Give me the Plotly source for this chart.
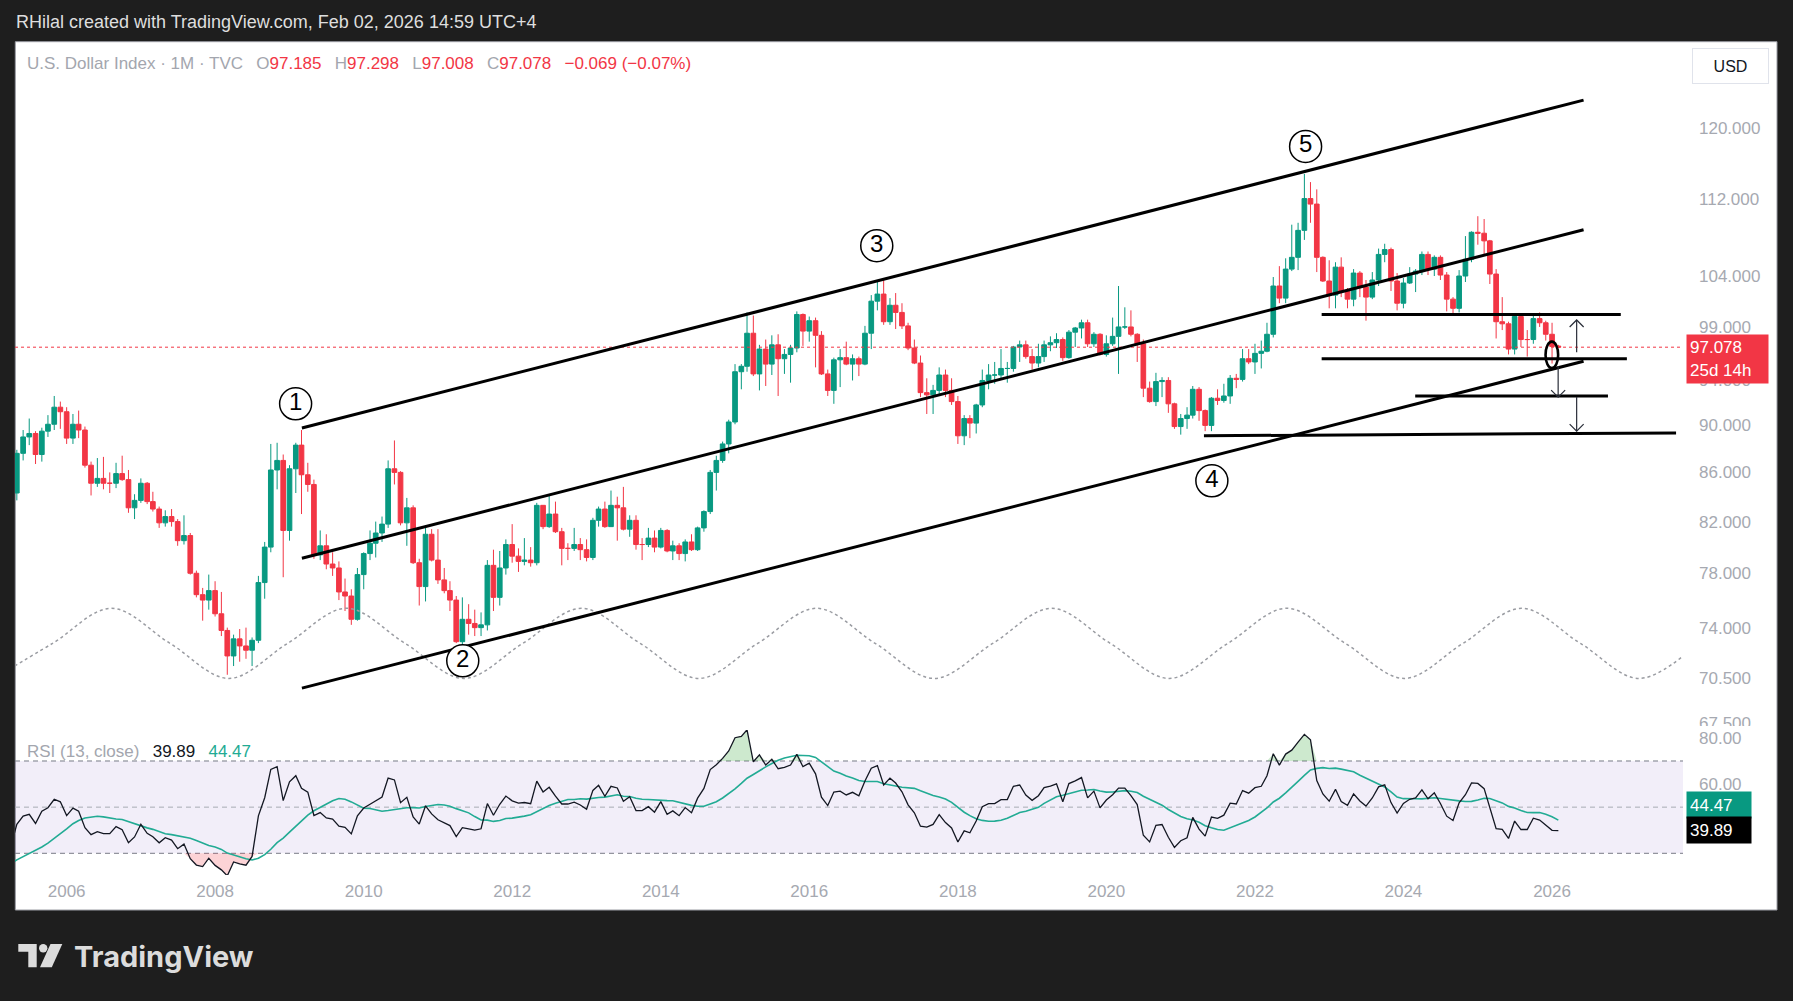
import numpy as np
import pandas as pd
import plotly.graph_objects as go

# ---------------------------------------------------------------- data
# U.S. Dollar Index, monthly bars (first bars before the visible range only warm up the RSI)
first_month = "2002-01-01"
opens = [
    116.8, 119.9, 119.4, 119.2, 115.5, 112.0, 106.0, 107.0, 107.2, 107.0, 106.8, 106.3,
    102.0, 100.6, 100.0, 100.3, 97.6, 93.9, 95.1, 97.4, 98.3, 93.7, 93.8, 91.2,
    86.9, 87.3, 88.4, 88.5, 90.9, 88.9, 88.9, 89.6, 88.9, 87.8, 85.1, 81.8,
    81.0, 83.8, 82.6, 84.7, 84.3, 87.6, 89.0, 89.3, 87.5, 89.5, 90.1, 91.6,
    91.2, 88.9, 90.1, 89.6, 86.6, 85.1, 85.5, 85.1, 85.1, 85.9, 85.4, 83.1,
    83.7, 85.1, 83.6, 83.0, 81.9, 82.4, 82.0, 80.5, 80.9, 78.0, 76.4, 76.0,
    76.7, 75.0, 73.8, 72.0, 73.2, 72.7, 72.4, 73.1, 77.3, 80.0, 86.2, 87.0,
    81.3, 86.3, 88.3, 85.8, 85.0, 79.4, 80.1, 78.7, 78.4, 76.6, 76.3, 74.6,
    77.9, 79.5, 80.3, 81.1, 81.8, 86.3, 86.0, 81.9, 83.1, 78.8, 77.0, 81.0,
    79.0, 77.5, 76.7, 76.0, 73.0, 74.6, 74.3, 74.0, 74.2, 78.6, 76.2, 78.4,
    80.2, 79.3, 78.9, 79.0, 78.8, 83.3, 81.6, 82.6, 81.2, 79.9, 79.9, 80.2,
    79.8, 79.2, 82.1, 83.0, 81.6, 83.3, 83.1, 81.4, 82.1, 80.2, 80.2, 80.7,
    80.0, 81.3, 79.7, 80.1, 79.5, 80.4, 79.8, 81.5, 82.8, 86.0, 87.0, 88.4,
    90.3, 94.8, 95.3, 98.4, 94.6, 96.9, 95.5, 97.3, 96.0, 96.4, 97.0, 100.2,
    98.6, 99.6, 98.2, 94.6, 93.1, 95.9, 96.1, 95.5, 96.0, 95.5, 98.4, 101.5,
    102.2, 99.5, 101.1, 100.4, 99.1, 97.0, 95.6, 92.9, 92.7, 93.1, 94.5, 93.1,
    92.1, 89.1, 90.6, 90.2, 91.8, 94.0, 94.5, 94.5, 95.1, 95.1, 97.1, 97.3,
    96.2, 95.6, 96.2, 97.3, 97.5, 97.8, 96.1, 98.5, 98.9, 99.4, 97.4, 98.3,
    96.4, 97.4, 98.1, 99.0, 99.0, 98.3, 97.4, 93.3, 92.1, 93.9, 94.0, 91.9,
    89.9, 90.6, 90.9, 93.2, 91.3, 90.0, 92.4, 92.2, 92.6, 94.2, 94.1, 96.0,
    95.7, 96.5, 96.7, 98.3, 103.0, 101.8, 104.7, 105.9, 108.7, 112.1, 111.5, 105.9,
    103.5, 102.1, 104.9, 102.5, 101.7, 104.3, 102.9, 101.9, 103.6, 106.2, 106.7, 103.5,
    101.3, 103.3, 104.2, 104.5, 106.2, 104.7, 105.9, 104.1, 101.7, 100.8, 104.0, 105.7,
    108.5, 108.4, 107.6, 104.2, 99.5, 99.3, 96.9, 100.0, 97.8, 97.8, 99.8, 99.4,
    98.3, 97.185,
]
highs = [
    120.5, 120.4, 120.2, 119.6, 115.9, 112.4, 108.5, 108.3, 108.3, 108.3, 107.5, 106.9,
    102.3, 101.4, 102.0, 101.0, 97.8, 96.3, 98.2, 99.4, 98.5, 95.4, 94.8, 91.4,
    88.1, 88.9, 90.2, 91.3, 92.3, 89.7, 90.2, 90.2, 89.8, 88.5, 85.3, 82.2,
    84.1, 84.8, 84.9, 85.4, 87.9, 89.6, 90.6, 89.5, 89.8, 90.9, 92.6, 92.1,
    91.6, 91.0, 91.3, 89.9, 86.9, 87.2, 87.3, 86.0, 86.8, 87.4, 86.2, 84.2,
    85.5, 85.2, 84.4, 83.2, 82.9, 83.0, 82.2, 82.5, 81.1, 78.2, 76.9, 77.9,
    77.4, 76.6, 74.0, 73.5, 73.9, 74.0, 73.3, 77.8, 80.4, 88.4, 88.5, 87.5,
    86.6, 88.5, 89.6, 86.8, 85.4, 81.3, 81.0, 79.6, 78.9, 77.6, 76.8, 78.4,
    79.6, 81.3, 82.0, 82.4, 87.0, 88.7, 86.1, 83.9, 83.3, 79.1, 81.7, 81.4,
    81.4, 78.4, 77.4, 76.3, 76.2, 75.7, 75.3, 75.1, 79.0, 79.8, 79.7, 80.6,
    81.8, 79.9, 80.7, 80.0, 83.5, 83.3, 84.1, 83.6, 81.5, 80.3, 81.5, 80.7,
    80.6, 82.3, 83.2, 83.6, 84.5, 84.0, 84.8, 82.5, 82.5, 80.7, 81.5, 81.3,
    81.5, 81.4, 80.5, 80.3, 80.6, 81.0, 81.6, 82.9, 86.2, 87.4, 88.6, 90.5,
    95.5, 95.5, 100.4, 100.1, 97.3, 97.8, 98.2, 98.3, 96.9, 97.3, 100.5, 100.3,
    100.0, 99.9, 98.6, 95.0, 96.1, 96.9, 97.6, 96.4, 96.2, 99.1, 102.1, 103.6,
    103.8, 101.8, 102.3, 101.3, 99.4, 97.8, 96.3, 94.2, 93.6, 95.2, 95.0, 94.2,
    92.6, 90.9, 90.9, 91.9, 95.0, 95.5, 95.7, 96.9, 95.7, 97.2, 97.7, 97.7,
    96.9, 97.4, 97.7, 98.1, 98.4, 98.0, 98.7, 99.0, 99.7, 99.7, 98.5, 98.4,
    98.2, 99.9, 103.0, 100.9, 100.6, 98.4, 97.8, 93.9, 94.7, 94.3, 94.3, 92.0,
    91.0, 91.6, 93.5, 93.4, 91.4, 92.5, 93.2, 93.7, 94.5, 94.6, 96.9, 96.9,
    97.4, 97.7, 99.4, 103.9, 105.0, 105.8, 109.3, 109.5, 114.8, 113.9, 113.1, 106.0,
    105.6, 105.4, 105.9, 102.8, 104.7, 104.5, 103.6, 104.4, 106.8, 107.3, 106.9, 104.3,
    103.8, 104.9, 104.7, 106.5, 106.5, 106.1, 106.1, 104.4, 101.9, 104.6, 108.1, 108.6,
    110.2, 109.9, 107.7, 104.7, 101.9, 99.5, 100.1, 100.3, 98.7, 100.3, 100.4, 99.6,
    99.4, 97.298,
]
lows = [
    116.4, 118.4, 117.6, 114.9, 111.7, 105.6, 104.9, 105.9, 105.9, 106.2, 104.5, 101.8,
    98.8, 99.2, 98.9, 97.3, 92.8, 92.9, 94.8, 96.5, 93.5, 92.2, 91.1, 86.8,
    84.9, 84.9, 87.3, 88.0, 88.5, 87.5, 87.3, 87.8, 87.6, 84.9, 81.4, 80.4,
    80.4, 82.1, 80.4, 83.3, 83.7, 87.0, 88.3, 86.7, 86.9, 89.0, 89.6, 89.7,
    88.4, 88.4, 88.9, 86.4, 84.1, 84.8, 84.6, 84.3, 84.7, 85.3, 82.7, 82.2,
    83.5, 83.4, 82.8, 81.5, 81.6, 81.6, 80.1, 80.2, 77.9, 76.2, 74.5, 75.3,
    74.8, 73.4, 70.7, 71.3, 71.6, 71.8, 71.3, 72.9, 76.1, 79.6, 84.6, 77.7,
    80.5, 84.3, 82.6, 84.4, 79.1, 79.0, 78.3, 77.8, 76.0, 75.2, 74.2, 74.5,
    76.8, 79.0, 79.2, 80.4, 81.5, 85.0, 81.7, 80.1, 78.7, 75.6, 75.9, 78.9,
    77.2, 76.5, 75.2, 72.9, 72.7, 73.5, 73.4, 73.4, 73.8, 75.2, 75.6, 77.9,
    78.8, 78.1, 78.6, 78.5, 78.6, 81.4, 81.5, 81.1, 78.6, 79.0, 79.7, 79.0,
    78.9, 79.0, 81.6, 81.5, 81.6, 80.5, 81.3, 80.8, 79.8, 79.0, 80.0, 79.6,
    79.9, 79.6, 79.0, 79.0, 78.9, 79.7, 79.7, 81.2, 82.6, 84.5, 86.8, 87.6,
    90.1, 93.2, 94.8, 94.4, 93.1, 93.5, 94.5, 92.6, 94.6, 93.8, 96.6, 97.2,
    97.6, 95.2, 94.5, 92.6, 91.9, 93.4, 95.4, 94.0, 94.4, 95.4, 96.9, 100.6,
    99.2, 99.2, 98.8, 98.8, 96.8, 95.5, 92.5, 91.0, 91.0, 92.7, 92.5, 91.8,
    88.4, 88.3, 88.9, 89.3, 91.6, 93.2, 93.7, 94.1, 93.8, 94.8, 95.7, 96.0,
    95.0, 95.2, 95.7, 96.7, 97.0, 95.8, 96.0, 97.1, 97.9, 97.1, 97.1, 96.3,
    96.2, 97.2, 94.6, 98.8, 98.1, 95.7, 92.5, 92.0, 91.7, 92.5, 91.1, 89.7,
    89.2, 89.7, 90.6, 90.4, 89.5, 89.5, 91.8, 92.0, 91.9, 93.3, 93.9, 95.5,
    94.6, 95.1, 96.6, 98.0, 101.3, 101.3, 104.5, 104.6, 107.7, 109.5, 104.4, 103.4,
    100.8, 100.8, 101.9, 100.8, 101.0, 101.9, 99.6, 101.7, 103.0, 105.4, 102.5, 100.6,
    100.8, 103.2, 102.4, 104.1, 104.1, 104.0, 103.6, 100.5, 100.2, 100.4, 103.4, 105.4,
    107.2, 106.1, 103.2, 97.9, 98.7, 96.4, 96.4, 97.1, 96.2, 97.4, 99.0, 97.7,
    95.55, 97.008,
]
closes = [
    119.9, 119.4, 119.2, 115.5, 112.0, 106.0, 107.0, 107.2, 107.0, 106.8, 106.3, 102.0,
    100.6, 100.0, 100.3, 97.6, 93.9, 95.1, 97.4, 98.3, 93.7, 93.8, 91.2, 86.9,
    87.3, 88.4, 88.5, 90.9, 88.9, 88.9, 89.6, 88.9, 87.8, 85.1, 81.8, 81.0,
    83.8, 82.6, 84.7, 84.3, 87.6, 89.0, 89.3, 87.5, 89.5, 90.1, 91.6, 91.2,
    88.9, 90.1, 89.6, 86.6, 85.1, 85.5, 85.1, 85.1, 85.9, 85.4, 83.1, 83.7,
    85.1, 83.6, 83.0, 81.9, 82.4, 82.0, 80.5, 80.9, 78.0, 76.4, 76.0, 76.7,
    75.0, 73.8, 72.0, 73.2, 72.7, 72.4, 73.1, 77.3, 80.0, 86.2, 87.0, 81.3,
    86.3, 88.3, 85.8, 85.0, 79.4, 80.1, 78.7, 78.4, 76.6, 76.3, 74.6, 77.9,
    79.5, 80.3, 81.1, 81.8, 86.3, 86.0, 81.9, 83.1, 78.8, 77.0, 81.0, 79.0,
    77.5, 76.7, 76.0, 73.0, 74.6, 74.3, 74.0, 74.2, 78.6, 76.2, 78.4, 80.2,
    79.3, 78.9, 79.0, 78.8, 83.3, 81.6, 82.6, 81.2, 79.9, 79.9, 80.2, 79.8,
    79.2, 82.1, 83.0, 81.6, 83.3, 83.1, 81.4, 82.1, 80.2, 80.2, 80.7, 80.0,
    81.3, 79.7, 80.1, 79.5, 80.4, 79.8, 81.5, 82.8, 86.0, 87.0, 88.4, 90.3,
    94.8, 95.3, 98.4, 94.6, 96.9, 95.5, 97.3, 96.0, 96.4, 97.0, 100.2, 98.6,
    99.6, 98.2, 94.6, 93.1, 95.9, 96.1, 95.5, 96.0, 95.5, 98.4, 101.5, 102.2,
    99.5, 101.1, 100.4, 99.1, 97.0, 95.6, 92.9, 92.7, 93.1, 94.5, 93.1, 92.1,
    89.1, 90.6, 90.2, 91.8, 94.0, 94.5, 94.5, 95.1, 95.1, 97.1, 97.3, 96.2,
    95.6, 96.2, 97.3, 97.5, 97.8, 96.1, 98.5, 98.9, 99.4, 97.4, 98.3, 96.4,
    97.4, 98.1, 99.0, 99.0, 98.3, 97.4, 93.3, 92.1, 93.9, 94.0, 91.9, 89.9,
    90.6, 90.9, 93.2, 91.3, 90.0, 92.4, 92.2, 92.6, 94.2, 94.1, 96.0, 95.7,
    96.5, 96.7, 98.3, 103.0, 101.8, 104.7, 105.9, 108.7, 112.1, 111.5, 105.9, 103.5,
    102.1, 104.9, 102.5, 101.7, 104.3, 102.9, 101.9, 103.6, 106.2, 106.7, 103.5, 101.3,
    103.3, 104.2, 104.5, 106.2, 104.7, 105.9, 104.1, 101.7, 100.8, 104.0, 105.7, 108.5,
    108.4, 107.6, 104.2, 99.5, 99.3, 96.9, 100.0, 97.8, 97.8, 99.8, 99.4, 98.3,
    97.147, 97.078,
]

year_ticks = [2006, 2008, 2010, 2012, 2014, 2016, 2018, 2020, 2022, 2024, 2026]
price_ticks = [67.5, 70.5, 74, 78, 82, 86, 90, 94, 99, 104, 112, 120]
rsi_ticks = [60, 80]
rsi_length = 13
rsi_ma_length = 14
rsi_label_values = [39.89, 44.47]       # RSI, RSI-MA as printed on the chart
countdown_text = "25d 14h"

# ---------------------------------------------------------------- drawings (data units)
channel_dates = ["2009-03-03", "2026-06-05"]
channel_upper = [89.77, 123.3]
channel_middle = [79.14, 108.77]
channel_lower = [69.79, 95.77]

level_starts = ["2022-11-25", "2022-11-25", "2024-02-28", "2021-04-25"]
level_ends = ["2026-12-05", "2027-01-04", "2026-10-03", "2027-09-03"]
level_start_prices = [100.2, 96.0, 92.6, 89.1]
level_end_prices = [100.2, 96.0, 92.6, 89.35]

arrow_dates = ["2026-05-02", "2026-01-31", "2026-05-02"]
arrow_tail_prices = [96.6, 95.3, 92.5]
arrow_head_prices = [99.67, 92.5, 89.5]

ellipse_dates = ["2025-11-30", "2026-01-31"]
ellipse_prices = [95.13, 97.6]

wave_labels = ["1", "2", "3", "4", "5"]
wave_dates = ["2009-01-31", "2011-05-03", "2016-11-28", "2021-06-03", "2022-09-07"]
wave_prices = [91.9, 71.66, 107.1, 85.3, 117.9]

# sine-line drawing: nodes (months after Jan 2006) trough / middle / crest
sine_months = [-11.77, -2.28, 7.22, 16.71, 26.21, 35.70, 45.20, 54.69, 64.19, 73.68,
               83.18, 92.67, 102.17, 111.66, 121.16, 130.65, 140.15, 149.64, 159.14,
               168.63, 178.13, 187.62, 197.12, 206.61, 216.11, 225.60, 235.10, 244.59,
               254.09, 263.58]
sine_prices = [70.45, 72.88, 75.4, 72.88] * 7 + [70.45, 72.88]

# ---------------------------------------------------------------- geometry / style
FIG_W, FIG_H = 1793, 1001
PL, PR, PT, PB = 15, 1683, 42, 875
PANE_SPLIT = 730
x_range = ["2005-04-22", "2027-10-07"]
price_bottom, price_top = 67.02, 130.44
rsi_range = [20.6, 83.43]

FONT = "Liberation Sans, Arial, sans-serif"
AXIS_TEXT = "#a6a9b1"
UP, DOWN = "#089981", "#f23645"
TEAL = "#22ab94"
INK = "#131722"


def fx(px):
    return (px - PL) / (PR - PL)


def fy(py):
    return (PB - py) / (PB - PT)


px_per_day = (PR - PL) / (pd.Timestamp(x_range[1]) - pd.Timestamp(x_range[0])).days
ln_px = (PANE_SPLIT - PT) / np.log(price_top / price_bottom)

months = pd.date_range(first_month, periods=len(closes), freq="MS")
assert len(opens) == len(highs) == len(lows) == len(closes)

# ---------------------------------------------------------------- RSI (13) + SMA (14)
c = np.array(closes, dtype=float)
ch = np.diff(c)
up = np.maximum(ch, 0)
dn = np.maximum(-ch, 0)
rsi = np.full(len(c), np.nan)
au = up[:rsi_length].mean()
ad = dn[:rsi_length].mean()
rsi[rsi_length] = 100 - 100 / (1 + au / ad)
for i in range(rsi_length, len(ch)):
    au = (au * (rsi_length - 1) + up[i]) / rsi_length
    ad = (ad * (rsi_length - 1) + dn[i]) / rsi_length
    rsi[i + 1] = 100 if ad == 0 else 100 - 100 / (1 + au / ad)
rsi_ma = pd.Series(rsi).rolling(rsi_ma_length).mean().to_numpy()

# ---------------------------------------------------------------- figure
fig = go.Figure()

# last price dotted line
fig.add_trace(go.Scatter(x=x_range, y=[closes[-1], closes[-1]], mode="lines",
                         line=dict(color=DOWN, width=1, dash="dot"), hoverinfo="skip"))

# sine drawing
base = pd.Timestamp("2006-01-01")
sine_dates = [base + pd.Timedelta(days=m * 30.4375) for m in sine_months]
fig.add_trace(go.Scatter(x=sine_dates, y=sine_prices, mode="lines",
                         line=dict(color="#9a9ca2", width=1.5, dash="dot", shape="spline", smoothing=1.0),
                         hoverinfo="skip"))

# candles
fig.add_trace(go.Candlestick(
    x=months, open=opens, high=highs, low=lows, close=closes,
    increasing=dict(line=dict(color=UP, width=1), fillcolor=UP),
    decreasing=dict(line=dict(color=DOWN, width=1), fillcolor=DOWN),
    whiskerwidth=0, hoverinfo="skip"))

# channel lines
for ys in (channel_upper, channel_middle, channel_lower):
    fig.add_trace(go.Scatter(x=channel_dates, y=ys, mode="lines",
                             line=dict(color="black", width=3), hoverinfo="skip"))

# horizontal levels
for s, e, p0, p1 in zip(level_starts, level_ends, level_start_prices, level_end_prices):
    fig.add_trace(go.Scatter(x=[s, e], y=[p0, p1], mode="lines",
                             line=dict(color="black", width=3), hoverinfo="skip"))

# arrows
ax_x, ax_y = [], []
half = 7.0
for d, tail, head in zip(arrow_dates, arrow_tail_prices, arrow_head_prices):
    t = pd.Timestamp(d)
    direction = 1 if head > tail else -1
    dd = pd.Timedelta(days=half / px_per_day)
    f = np.exp(-direction * half / ln_px)
    ax_x += [t, t, None, t - dd, t, t + dd, None]
    ax_y += [tail, head, None, head * f, head, head * f, None]
fig.add_trace(go.Scatter(x=ax_x, y=ax_y, mode="lines", line=dict(color="#2a2e39", width=1.2),
                         hoverinfo="skip", connectgaps=False))

# wave count labels
fig.add_trace(go.Scatter(x=wave_dates, y=wave_prices, mode="markers+text", text=wave_labels,
                         textposition="middle center",
                         textfont=dict(family=FONT, size=24, color="black"),
                         marker=dict(symbol="circle", size=32, color="white",
                                     line=dict(color="black", width=1.5)),
                         hoverinfo="skip", cliponaxis=False))

# ---- RSI pane
n = len(months)
fig.add_trace(go.Scatter(x=months, y=[70] * n, yaxis="y2", mode="lines", line=dict(width=0),
                         hoverinfo="skip"))
fig.add_trace(go.Scatter(x=months, y=np.maximum(rsi, 70), yaxis="y2", mode="lines",
                         line=dict(width=0), fill="tonexty", fillcolor="rgba(76,175,80,0.28)",
                         hoverinfo="skip"))
fig.add_trace(go.Scatter(x=months, y=[30] * n, yaxis="y2", mode="lines", line=dict(width=0),
                         hoverinfo="skip"))
fig.add_trace(go.Scatter(x=months, y=np.minimum(rsi, 30), yaxis="y2", mode="lines",
                         line=dict(width=0), fill="tonexty", fillcolor="rgba(242,54,69,0.22)",
                         hoverinfo="skip"))
fig.add_trace(go.Scatter(x=months, y=rsi_ma, yaxis="y2", mode="lines",
                         line=dict(color=TEAL, width=1.6), hoverinfo="skip"))
fig.add_trace(go.Scatter(x=months, y=rsi, yaxis="y2", mode="lines",
                         line=dict(color=INK, width=1.3), hoverinfo="skip"))

shapes = [
    # white chart panel
    dict(type="rect", xref="paper", yref="paper", x0=fx(15.3), x1=fx(1777), y0=fy(910), y1=fy(41.7),
         fillcolor="white", line=dict(color="#9a9ca3", width=1), layer="below"),
    # RSI band
    dict(type="rect", xref="x domain", yref="y2", x0=0, x1=1, y0=30, y1=70,
         fillcolor="rgba(126,87,194,0.10)", line=dict(width=0), layer="below"),
    dict(type="line", xref="x domain", yref="y2", x0=0, x1=1, y0=70, y1=70,
         line=dict(color="#787b86", width=1, dash="5px,4px"), layer="below"),
    dict(type="line", xref="x domain", yref="y2", x0=0, x1=1, y0=50, y1=50,
         line=dict(color="#a9abb3", width=1, dash="5px,4px"), layer="below"),
    dict(type="line", xref="x domain", yref="y2", x0=0, x1=1, y0=30, y1=30,
         line=dict(color="#787b86", width=1, dash="5px,4px"), layer="below"),
    # ellipse around the last swing
    dict(type="circle", xref="x", yref="y", x0=ellipse_dates[0], x1=ellipse_dates[1],
         y0=ellipse_prices[0], y1=ellipse_prices[1], line=dict(color="black", width=2.6)),
    # clip the lowest price label at the pane border
    dict(type="rect", xref="paper", yref="paper", x0=fx(1684), x1=fx(1776), y0=fy(731.5), y1=fy(726),
         fillcolor="white", line=dict(width=0), layer="above"),
    # TradingView logo mark
    dict(type="path", xref="paper", yref="paper",
         path=(f"M{fx(18.3)},{fy(944)} L{fx(36.7)},{fy(944)} L{fx(36.7)},{fy(967.3)} "
               f"L{fx(28.3)},{fy(967.3)} L{fx(28.3)},{fy(951.7)} L{fx(18.3)},{fy(951.7)} Z"),
         fillcolor="#dcdcdc", line=dict(width=0)),
    dict(type="circle", xref="paper", yref="paper", x0=fx(39.0), x1=fx(47.4), y0=fy(952.5), y1=fy(944.1),
         fillcolor="#dcdcdc", line=dict(width=0)),
    dict(type="path", xref="paper", yref="paper",
         path=(f"M{fx(50.5)},{fy(944)} L{fx(62.3)},{fy(944)} L{fx(51.8)},{fy(967.3)} "
               f"L{fx(40.0)},{fy(967.3)} Z"),
         fillcolor="#dcdcdc", line=dict(width=0)),
]

chg = closes[-1] - closes[-2]
pct = chg / closes[-2] * 100
GRAY = "#a3a6ae"
SEP = "\u2002 "


def red(v):
    return f"<span style='color:{DOWN}'>{v}</span>"


legend = (f"<span style='color:{GRAY}'>U.S. Dollar Index · 1M · TVC</span>{SEP}"
          f"<span style='color:{GRAY}'>O</span>{red(f'{opens[-1]:.3f}')}{SEP}"
          f"<span style='color:{GRAY}'>H</span>{red(f'{highs[-1]:.3f}')}{SEP}"
          f"<span style='color:{GRAY}'>L</span>{red(f'{lows[-1]:.3f}')}{SEP}"
          f"<span style='color:{GRAY}'>C</span>{red(f'{closes[-1]:.3f}')}{SEP}"
          + red(f"{chg:+.3f} ({pct:+.2f}%)".replace("-", "\u2212")))

rsi_title = (f"<span style='color:{GRAY}'>RSI (13, close)</span>\u2002 "
             f"<span style='color:{INK}'>{rsi_label_values[0]:.2f}</span>\u2002 "
             f"<span style='color:{TEAL}'>{rsi_label_values[1]:.2f}</span>")

annotations = [
    dict(xref="paper", yref="paper", x=fx(14), y=fy(22), xanchor="left", yanchor="middle",
         text="RHilal created with TradingView.com, Feb 02, 2026 14:59 UTC+4", showarrow=False,
         font=dict(family=FONT, size=18, color="#dedede")),
    dict(xref="paper", yref="paper", x=fx(25), y=fy(63.5), xanchor="left", yanchor="middle",
         text=legend, showarrow=False, font=dict(family=FONT, size=17)),
    dict(xref="paper", yref="paper", x=fx(25), y=fy(751), xanchor="left", yanchor="middle",
         text=rsi_title, showarrow=False, font=dict(family=FONT, size=17)),
    dict(xref="paper", yref="paper", x=fx(1730.5), y=fy(65.8), xanchor="center", yanchor="middle",
         text="USD", showarrow=False, font=dict(family=FONT, size=16, color=INK),
         bgcolor="white", bordercolor="#e0e3eb", borderwidth=1, width=71, height=30, borderpad=2),
    dict(xref="paper", yref="y", x=fx(1686), y=np.log10(closes[-1]), xanchor="left", yanchor="top",
         yshift=13, text=f"{closes[-1]:.3f}<br>{countdown_text}", showarrow=False, align="left",
         font=dict(family=FONT, size=17, color="white"), bgcolor=DOWN, width=75, height=42,
         borderpad=3),
    dict(xref="paper", yref="y2", x=fx(1686), y=rsi_label_values[0], xanchor="left", yanchor="middle",
         yshift=25.5, text=f"{rsi_label_values[1]:.2f}", showarrow=False, align="left",
         font=dict(family=FONT, size=17, color="white"), bgcolor=UP, width=58, height=20, borderpad=3),
    dict(xref="paper", yref="y2", x=fx(1686), y=rsi_label_values[0], xanchor="left", yanchor="middle",
         text=f"{rsi_label_values[0]:.2f}", showarrow=False, align="left",
         font=dict(family=FONT, size=17, color="white"), bgcolor="black", width=58, height=20,
         borderpad=3),
    dict(xref="paper", yref="paper", x=fx(72), y=fy(956), xanchor="left", yanchor="middle",
         text="<b>TradingView</b>", showarrow=False,
         font=dict(family="Inter, Lato, sans-serif", size=29, color="#dcdcdc")),
]

fig.update_layout(
    width=FIG_W, height=FIG_H,
    margin=dict(l=PL, r=FIG_W - PR, t=PT, b=FIG_H - PB, pad=0),
    paper_bgcolor="#1e1e1e", plot_bgcolor="rgba(0,0,0,0)",
    showlegend=False, hovermode=False,
    font=dict(family=FONT, size=17, color=AXIS_TEXT),
    boxgap=0.18, boxgroupgap=0.0,
    xaxis=dict(type="date", range=x_range, anchor="y2", showgrid=False, zeroline=False,
               showline=False, ticks="", tickvals=[f"{y}-01-01" for y in year_ticks],
               ticktext=[str(y) for y in year_ticks], tickfont=dict(size=17, color=AXIS_TEXT),
               rangeslider=dict(visible=False), automargin=False, ticklabelstandoff=4),
    yaxis=dict(type="log", domain=[fy(PANE_SPLIT), 1],
               range=[np.log10(price_bottom), np.log10(price_top)], side="right", anchor="x",
               showgrid=False, zeroline=False, showline=False, ticks="", tickvals=price_ticks,
               tickformat=".3f", tickfont=dict(size=17, color=AXIS_TEXT), automargin=False,
               ticklabelstandoff=15),
    yaxis2=dict(domain=[0, fy(PANE_SPLIT)], range=rsi_range, side="right", anchor="x",
                showgrid=False, zeroline=False, showline=False, ticks="", tickvals=rsi_ticks,
                tickformat=".2f", tickfont=dict(size=17, color=AXIS_TEXT), automargin=False,
                ticklabelstandoff=15),
    shapes=shapes, annotations=annotations,
)

fig.write_html("out.html")
